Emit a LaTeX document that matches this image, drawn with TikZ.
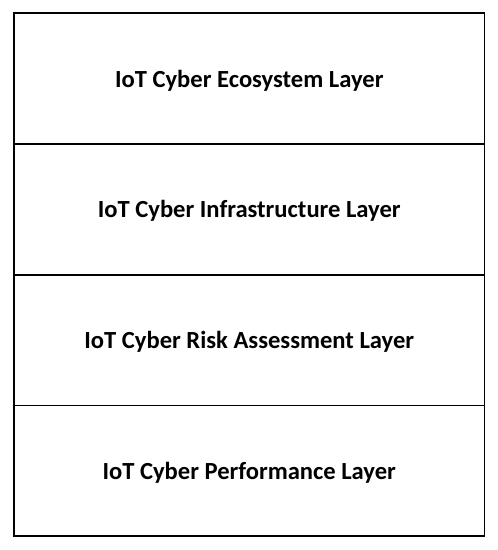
\documentclass[tikz,border=0pt]{standalone}
\usepackage{fontspec}
\setmainfont{Carlito}
\usepackage{tikz}
\usetikzlibrary{positioning}

\begin{document}
\begin{tikzpicture}[x=1pt,y=1pt,
    layer/.style={draw, line width=1.8pt, minimum width=470.5pt, minimum height=130.75pt,
        inner sep=0pt, outer sep=0pt, text depth=0pt, font=\fontsize{24.6}{28}\selectfont\bfseries}]
            % Cadre
            \useasboundingbox (0,0) rectangle (498,550);

            % Les couches
            \node[layer] (eco) at (249.25,471.4) {IoT Cyber Ecosystem Layer};
            \node[layer, below=0pt of eco] (infra) {IoT Cyber Infrastructure Layer};
            \node[layer, below=0pt of infra] (risk) {IoT Cyber Risk Assessment Layer};
            \node[layer, below=0pt of risk] (perf) {IoT Cyber Performance Layer};
        \end{tikzpicture}
\end{document}
